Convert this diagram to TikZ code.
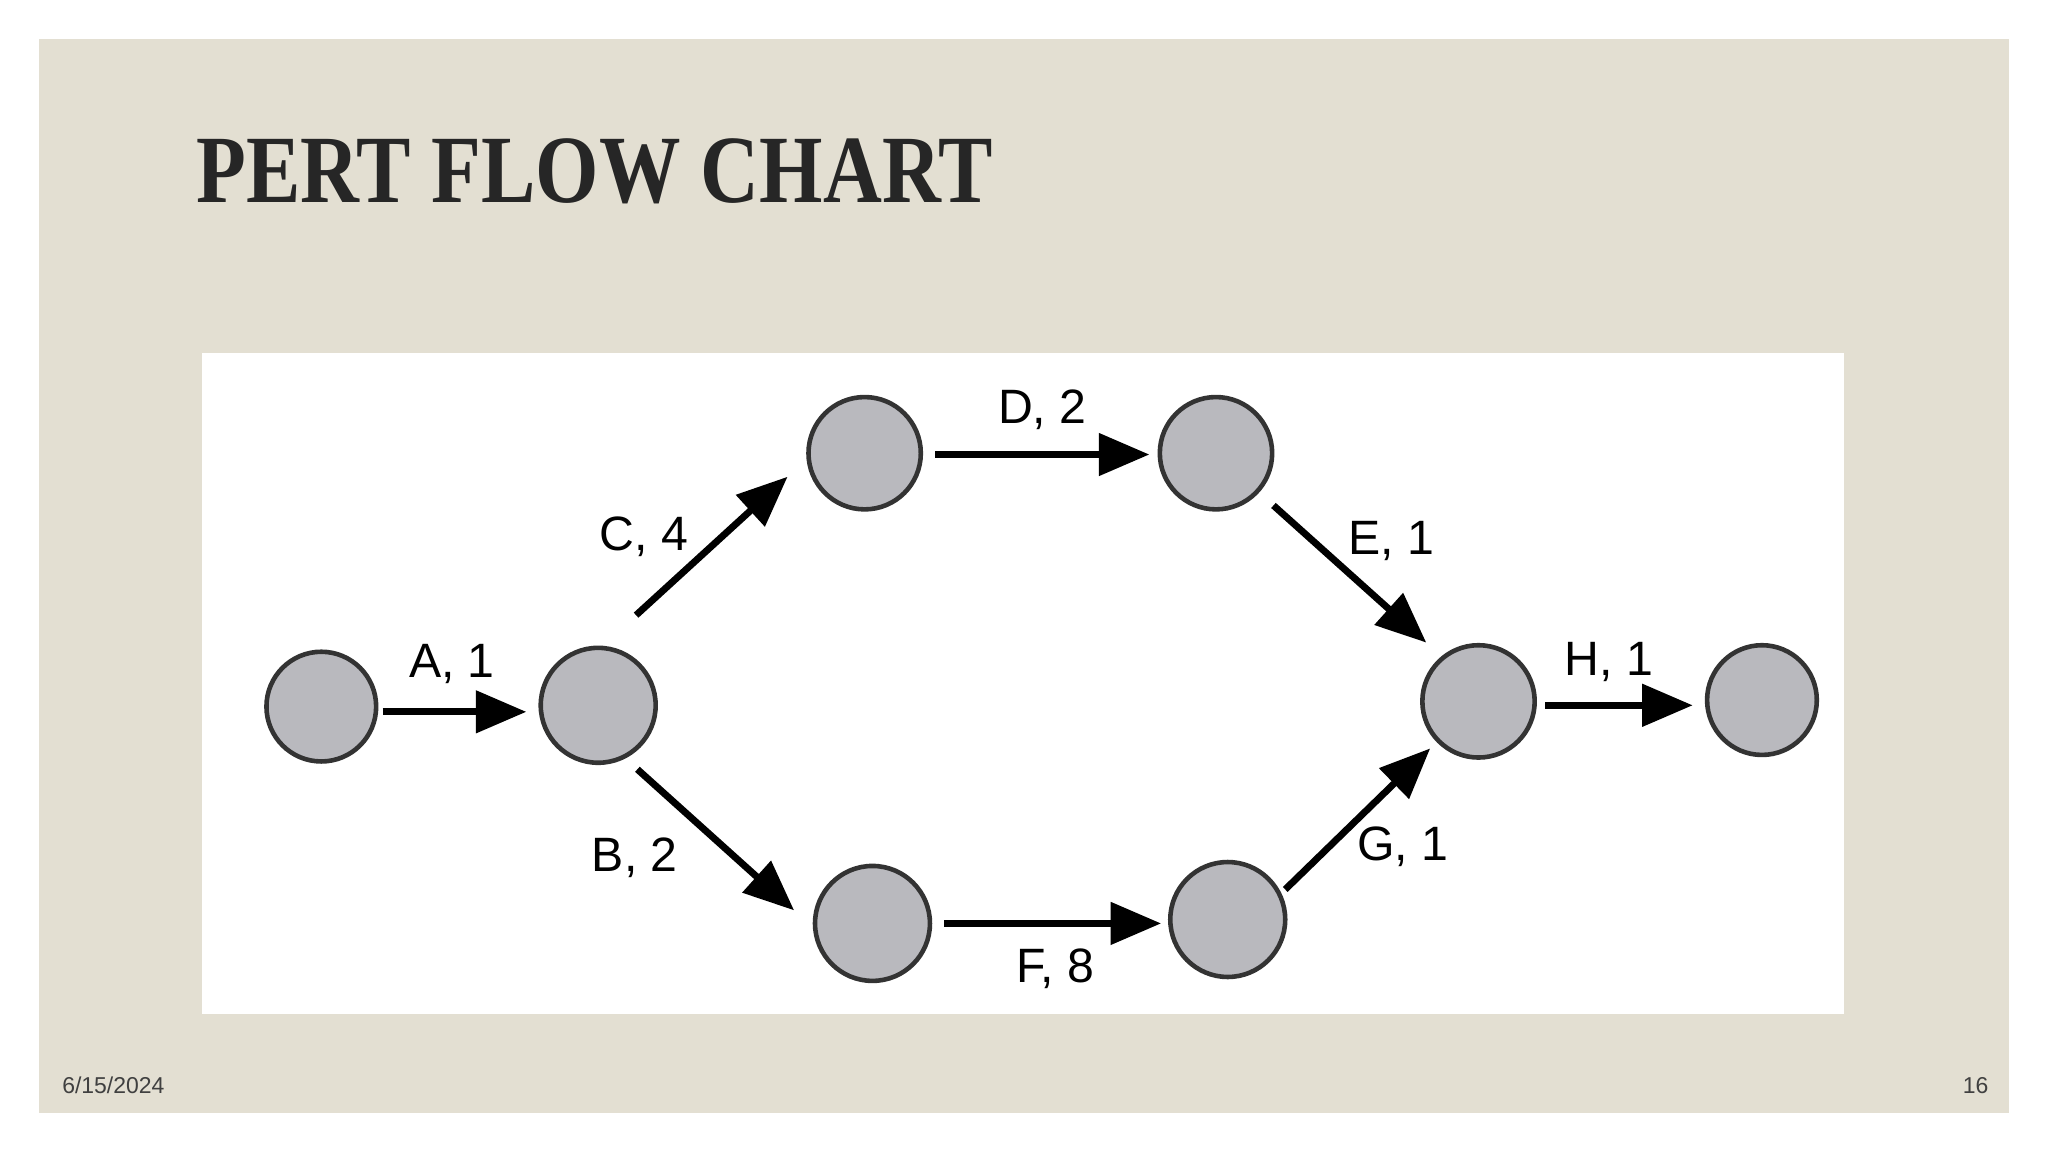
\documentclass[tikz,border=0pt]{standalone}
\usepackage{fontspec}
\setmainfont{Liberation Sans}
\newfontfamily\titlefont{Liberation Serif}
\usetikzlibrary{arrows.meta}
\definecolor{beige}{HTML}{E3DFD2}
\definecolor{nodegray}{HTML}{B9B9BE}
\tikzset{
  ev/.style={circle, draw=black!80, line width=1pt, fill=nodegray, minimum size=84*0.01cm, inner sep=0pt},
  act/.style={-{Triangle[length=11pt,width=9pt]}, line width=1.5pt},
  lbl/.style={font=\fontsize{10.5}{13}\selectfont}
}
\begin{document}
\begin{tikzpicture}[x=0.01cm,y=-0.01cm]
\useasboundingbox (0,0) rectangle (1568,882);
\fill[white] (0,0) rectangle (1568,882);
\fill[beige] (30,30) rectangle (1538,852);
\node[anchor=base west, inner sep=0pt, text=black!85, xscale=0.845] (title) at (150,155) {\titlefont\bfseries\fontsize{21}{26}\selectfont PERT FLOW CHART};
\fill[white] (155,270) rectangle (1412,776);
\node[ev] (n1) at (246,541) {};
\node[ev, minimum size=88*0.01cm] (n2) at (458,540) {};
\node[ev, minimum size=86*0.01cm] (n3) at (662,347) {};
\node[ev, minimum size=86*0.01cm] (n4) at (931,347) {};
\node[ev, minimum size=86*0.01cm] (n5) at (1132,537) {};
\node[ev] (n6) at (1349,536) {};
\node[ev, minimum size=88*0.01cm] (n7) at (668,707) {};
\node[ev, minimum size=88*0.01cm] (n8) at (940,704) {};
\coordinate (a1) at (293,545); \coordinate (a2) at (403,545);
\coordinate (c1) at (487,471); \coordinate (c2) at (603,365);
\coordinate (d1) at (716,348); \coordinate (d2) at (880,348);
\coordinate (e1) at (975,387); \coordinate (e2) at (1092,492);
\coordinate (h1) at (1183,540); \coordinate (h2) at (1296,540);
\coordinate (b1) at (488,589); \coordinate (b2) at (608,697);
\coordinate (f1) at (723,707); \coordinate (f2) at (889,707);
\coordinate (g1) at (984,681); \coordinate (g2) at (1095,573);
\draw[act] (a1) -- (a2);
\draw[act] (c1) -- (c2);
\draw[act] (d1) -- (d2);
\draw[act] (e1) -- (e2);
\draw[act] (h1) -- (h2);
\draw[act] (b1) -- (b2);
\draw[act] (f1) -- (f2);
\draw[act] (g1) -- (g2);
\node[lbl] (la) at (346,508) {A, 1};
\node[lbl] (lc) at (493,411) {C, 4};
\node[lbl] (ld) at (798,314) {D, 2};
\node[lbl] (le) at (1065,414) {E, 1};
\node[lbl] (lh) at (1232,507) {H, 1};
\node[lbl] (lb) at (486,657) {B, 2};
\node[lbl] (lf) at (808,742) {F, 8};
\node[lbl] (lg) at (1074,648) {G, 1};
\node[anchor=west, inner sep=0pt, font=\fontsize{5}{6}\selectfont, text=black!75] (date) at (47,831) {6/15/2024};
\node[anchor=east, inner sep=0pt, font=\fontsize{5}{6}\selectfont, text=black!75] (pg) at (1523,831) {16};
\end{tikzpicture}
\end{document}
